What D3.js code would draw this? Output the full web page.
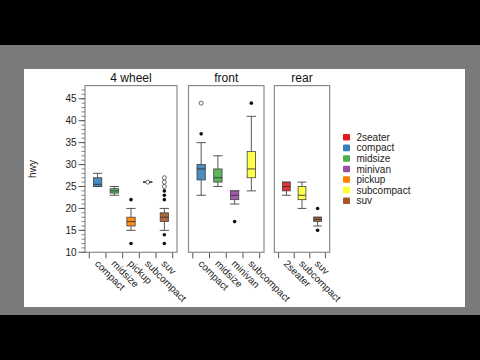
<!DOCTYPE html>
<html><head><meta charset="utf-8">
<script src="https://cdn.jsdelivr.net/npm/d3@7"></script>
<style>body{margin:0;background:#000;}svg{display:block;}</style>
</head><body>
<script>
// ---- data ----
const panels = ["4 wheel", "front", "rear"];
const classes = ["2seater","compact","midsize","minivan","pickup","subcompact","suv"];
const classColors = ["#E41A1C","#377EB8","#4DAF4A","#984EA3","#FF7F00","#FFFF33","#A65628"];
const yTicks = [10,15,20,25,30,35,40,45];

const cats4 = ["compact","midsize","pickup","subcompact","suv"];
const lo4  = [25, 23,   15, 26, 15];
const q1_4 = [25, 23.5, 16, 26, 17];
const med4 = [25.5, 24, 17, 26, 18];
const q3_4 = [27, 24.5, 18, 26, 19];
const hi4  = [28, 25,   20, 26, 20];
const out4 = [[], [], [22, 12], [], [22, 23, 24, 14, 12]];
const ext4 = [[], [], [], [26], [25, 26, 27]];

const catsF = ["compact","midsize","minivan","subcompact"];
const loF  = [23, 25, 21, 24];
const q1F  = [26.5, 26, 22, 27];
const medF = [29, 27, 23, 29];
const q3F  = [30, 29, 24, 33];
const hiF  = [35, 32, 24, 41];
const outF = [[37], [], [17], [44]];
const extF = [[44], [], [], []];

const catsR = ["2seater","subcompact","suv"];
const loR  = [23, 20, 16];
const q1R  = [24, 22, 17];
const medR = [25, 23, 17.5];
const q3R  = [26, 25, 18];
const hiR  = [26, 26, 18];
const outR = [[], [], [20, 15]];
const extR = [[], [], []];

function rows(cats, lo, q1, med, q3, hi, out, ext) {
  return cats.map((c, i) => ({cls: c, lo: lo[i], q1: q1[i], med: med[i], q3: q3[i], hi: hi[i], out: out[i], ext: ext[i]}));
}
const panelData = [
  rows(cats4, lo4, q1_4, med4, q3_4, hi4, out4, ext4),
  rows(catsF, loF, q1F, medF, q3F, hiF, outF, extF),
  rows(catsR, loR, q1R, medR, q3R, hiR, outR, extR)
];

// ---- layout ----
const W = 480, H = 360;
const svg = d3.select("body").append("svg").attr("width", W).attr("height", H);
svg.append("rect").attr("width", W).attr("height", H).attr("fill", "#000");
svg.append("rect").attr("x", 0).attr("y", 45).attr("width", W).attr("height", 270).attr("fill", "#7a7a7a");
svg.append("rect").attr("x", 24).attr("y", 69).attr("width", 441).attr("height", 238).attr("fill", "#fff");

const font = "'Liberation Sans', Arial, Helvetica, sans-serif";
const color = d3.scaleOrdinal().domain(classes).range(classColors);
const y = d3.scaleLinear().domain([10, 48]).range([252.3, 85.6]);
const panelX = [[85, 177], [188.5, 264], [274.3, 329.7]];
const pad = 4.3;

panels.forEach((p, pi) => {
  const [x0, x1] = panelX[pi];
  const data = panelData[pi];
  const x = d3.scaleBand().domain(data.map(d => d.cls)).range([x0 + pad, x1 - pad]).paddingInner(0).paddingOuter(0);
  const g = svg.append("g");
  const bw = x.bandwidth() * 0.5;
  const cw = x.bandwidth() * 0.28;

  // title
  g.append("text").attr("x", (x0 + x1) / 2).attr("y", 81.5).attr("text-anchor", "middle")
    .attr("font-family", font).attr("font-size", 12).attr("fill", "#111").text(p);

  // bottom ticks at band boundaries
  const bounds = x.domain().map(d => x(d)).concat([x(x.domain()[x.domain().length - 1]) + x.bandwidth()]);
  g.selectAll(".xt").data(bounds).join("line")
    .attr("x1", d => d).attr("x2", d => d).attr("y1", y(10)).attr("y2", y(10) + 6)
    .attr("stroke", "#555").attr("stroke-width", 1);

  // x labels
  g.selectAll(".xl").data(data).join("text")
    .attr("transform", d => `translate(${x(d.cls) + x.bandwidth() / 2 - 3.5},${y(10) + 12}) rotate(45)`)
    .attr("font-family", font).attr("font-size", 10).attr("fill", "#222").text(d => d.cls);

  const bx = g.selectAll(".box").data(data).join("g")
    .attr("transform", d => `translate(${x(d.cls) + x.bandwidth() / 2},0)`);
  // whiskers
  bx.append("line").attr("x1", 0).attr("x2", 0).attr("y1", d => y(d.hi)).attr("y2", d => y(d.q3))
    .attr("stroke", "#444").attr("stroke-width", 0.9);
  bx.append("line").attr("x1", 0).attr("x2", 0).attr("y1", d => y(d.q1)).attr("y2", d => y(d.lo))
    .attr("stroke", "#444").attr("stroke-width", 0.9);
  bx.append("line").attr("x1", -cw).attr("x2", cw).attr("y1", d => y(d.hi)).attr("y2", d => y(d.hi))
    .attr("stroke", "#444").attr("stroke-width", 0.9);
  bx.append("line").attr("x1", -cw).attr("x2", cw).attr("y1", d => y(d.lo)).attr("y2", d => y(d.lo))
    .attr("stroke", "#444").attr("stroke-width", 0.9);
  // box
  bx.append("rect").attr("x", -bw / 2).attr("width", bw)
    .attr("y", d => y(d.q3)).attr("height", d => Math.max(0.01, y(d.q1) - y(d.q3)))
    .attr("fill", d => color(d.cls)).attr("fill-opacity", 0.9)
    .attr("stroke", "#444").attr("stroke-width", 0.8);
  bx.append("line").attr("x1", -bw / 2).attr("x2", bw / 2).attr("y1", d => y(d.med)).attr("y2", d => y(d.med))
    .attr("stroke", "#333").attr("stroke-width", 0.9);
  // outliers
  bx.selectAll(".o").data(d => d.out).join("circle")
    .attr("cx", 0).attr("cy", v => y(v)).attr("r", 1.8).attr("fill", "#111");
  bx.selectAll(".e").data(d => d.ext).join("circle")
    .attr("cx", 0).attr("cy", v => y(v)).attr("r", 2).attr("fill", "#fff").attr("stroke", "#444").attr("stroke-width", 0.8);

  // frame
  g.append("rect").attr("x", x0).attr("y", y(48)).attr("width", x1 - x0).attr("height", y(10) - y(48))
    .attr("fill", "none").attr("stroke", "#8a8a8a").attr("stroke-width", 1.2);

  if (pi === 0) {
    const minor = d3.range(10, 48, 1);
    g.selectAll(".mt").data(minor).join("line")
      .attr("x1", x0 - 3.5).attr("x2", x0).attr("y1", d => y(d)).attr("y2", d => y(d))
      .attr("stroke", "#666").attr("stroke-width", 0.8);
    g.selectAll(".yt").data(yTicks).join("line")
      .attr("x1", x0 - 6.5).attr("x2", x0).attr("y1", d => y(d)).attr("y2", d => y(d))
      .attr("stroke", "#555").attr("stroke-width", 1);
    g.selectAll(".yl").data(yTicks).join("text")
      .attr("x", x0 - 8.5).attr("y", d => y(d)).attr("dy", "0.35em").attr("text-anchor", "end")
      .attr("font-family", font).attr("font-size", 10).attr("fill", "#222").text(d => d);
  }
});

// y label
svg.append("text").attr("transform", "translate(36,169) rotate(-90)").attr("text-anchor", "middle")
  .attr("font-family", font).attr("font-size", 10).attr("fill", "#222").text("hwy");

// legend
const lg = svg.append("g");
const ly = d3.scalePoint().domain(classes).range([137.3, 200.7]);
lg.selectAll("rect").data(classes).join("rect")
  .attr("x", 343).attr("y", d => ly(d) - 3.3).attr("width", 7).attr("height", 6.6).attr("rx", 1)
  .attr("fill", d => color(d));
lg.selectAll("text").data(classes).join("text")
  .attr("x", 356.5).attr("y", d => ly(d)).attr("dy", "0.35em")
  .attr("font-family", font).attr("font-size", 10).attr("fill", "#222").text(d => d);
</script>
</body></html>
